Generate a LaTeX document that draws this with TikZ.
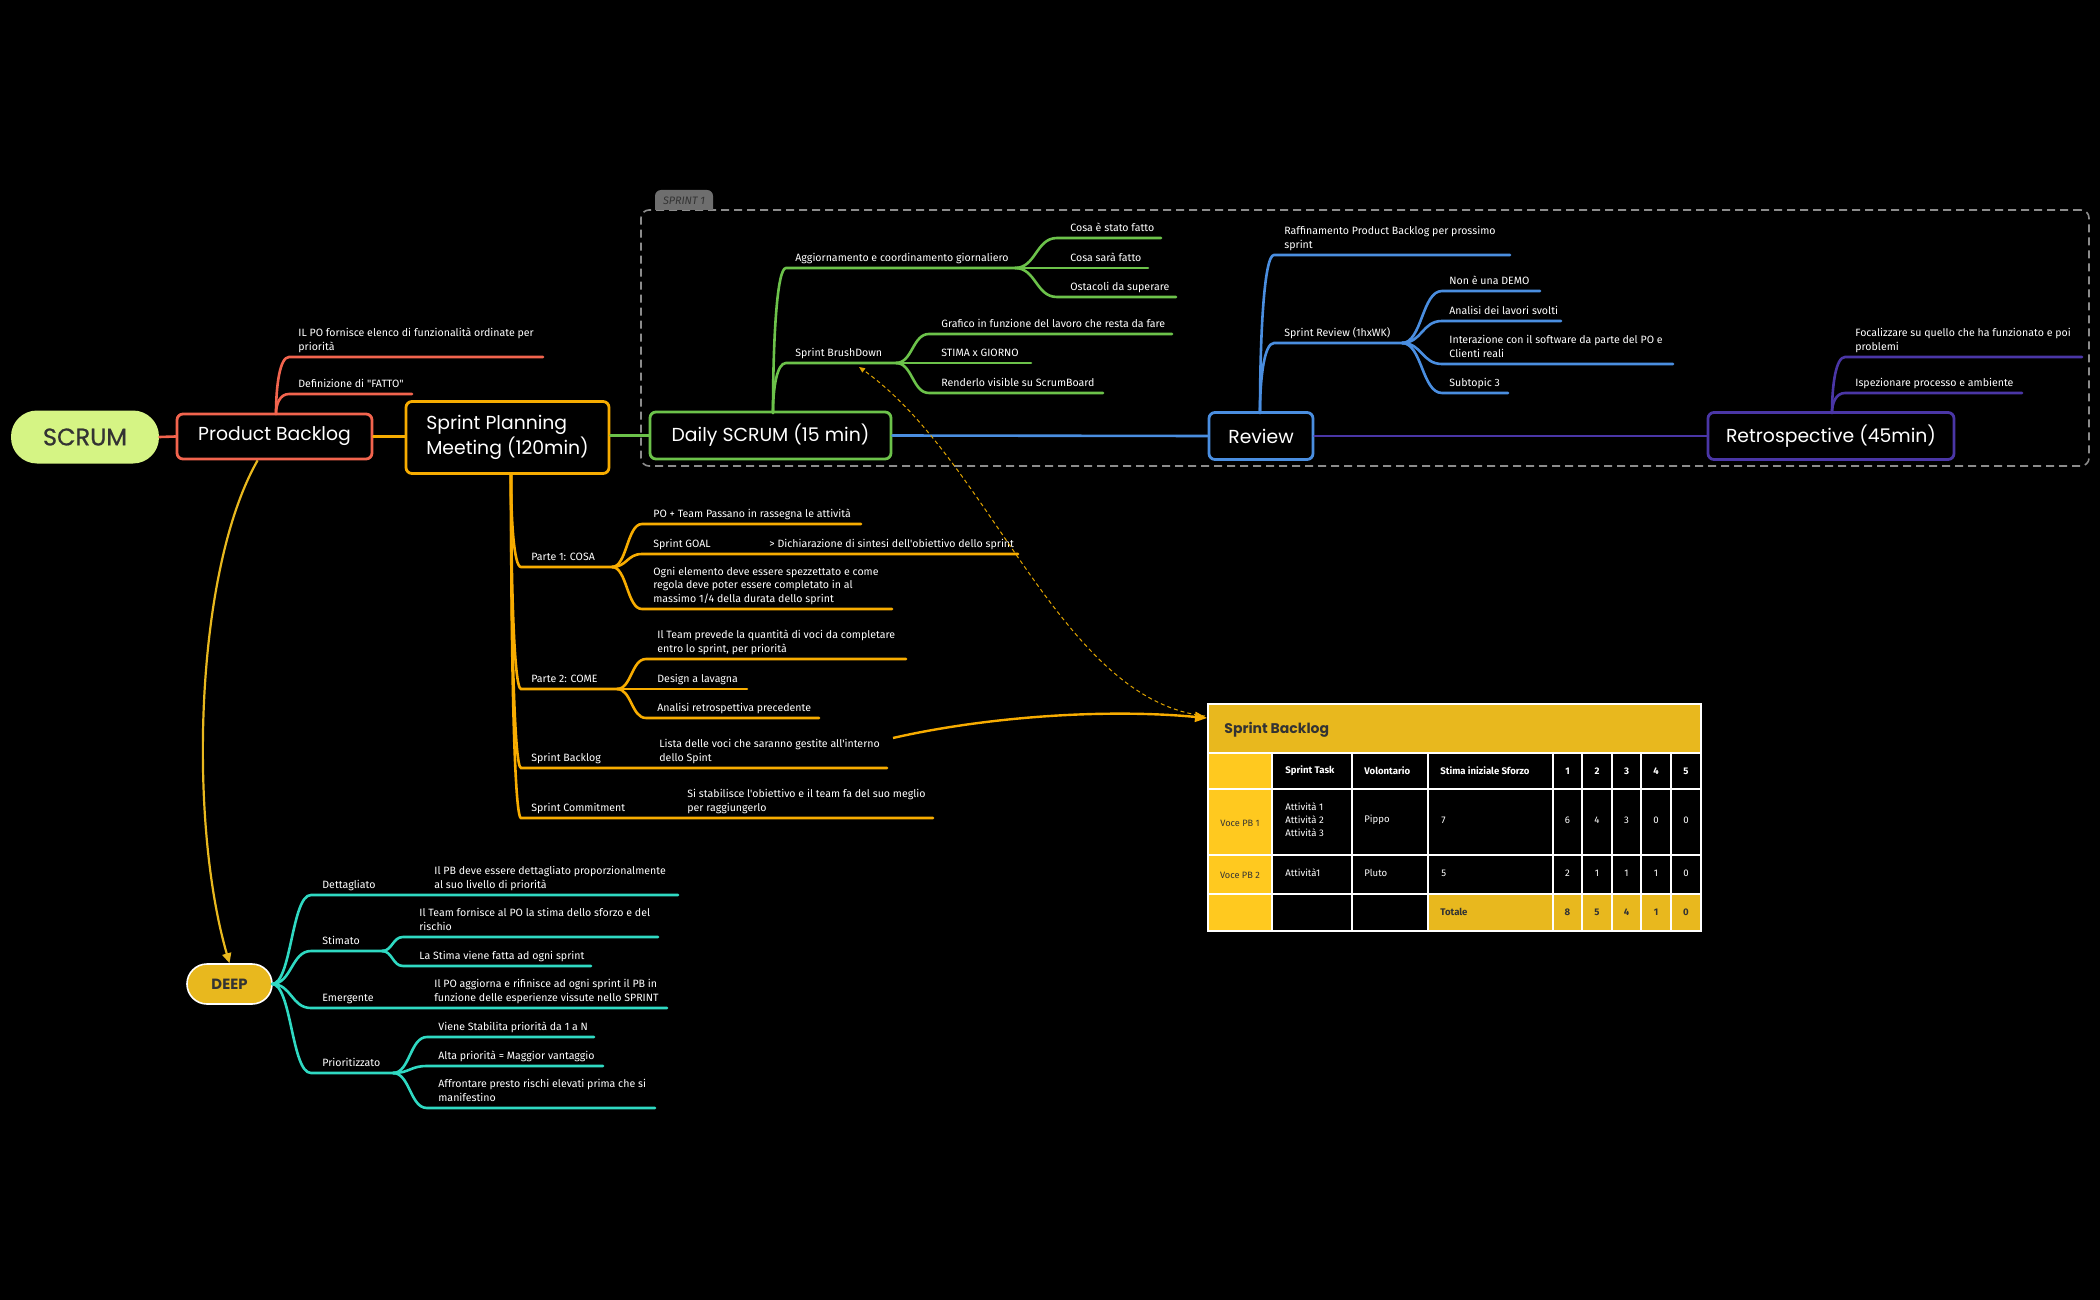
\documentclass[tikz,border=0pt]{standalone}
\usepackage{fontspec}
\setmainfont{Fira Sans}
\newfontfamily\ffti{Poppins}
\newfontfamily\fftib{Poppins}[FakeBold=0.8]
\newfontfamily\ffsm{Fira Sans}
\usetikzlibrary{arrows.meta}
\definecolor{cor}{HTML}{F2644E}
\definecolor{ora}{HTML}{F7AC00}
\definecolor{grn}{HTML}{6CC24A}
\definecolor{blu}{HTML}{4A8EE0}
\definecolor{pur}{HTML}{4A36A6}
\definecolor{tea}{HTML}{2FD9C2}
\definecolor{lime}{HTML}{D5F484}
\definecolor{gold}{HTML}{E8B81E}
\definecolor{yel}{HTML}{FFC91F}
\definecolor{dk}{HTML}{333333}
\definecolor{dashc}{HTML}{8C8C8C}
\definecolor{tabc}{HTML}{6E6E6E}
\definecolor{relc}{HTML}{E0A400}
\newcommand\lb[4]{\node[lbl] (#1) at (#2,{#3-2.5}) {#4\strut};}
\newcommand\vbr[6]{\draw[br,#1] (#2,#3) .. controls (#2,{(#3+#5)/2}) and ({#2+0.3*(#4-#2)},#5) .. (#4,#5) -- (#6,#5);}
\newcommand\hbr[6]{\draw[br,#1] (#2,#3) .. controls ({(#2+#4)/2},#3) and ({(#2+#4)/2},#5) .. (#4,#5) -- (#6,#5);}
\begin{document}
\begin{tikzpicture}[x=0.5pt,y=-0.5pt,
 lbl/.style={anchor=south west,inner sep=0pt,text=white,font=\ffsm\fontsize{5.3}{6.6}\selectfont,align=left},
 br/.style={line width=1.3pt,line cap=round},
 topic/.style={draw,line width=1.4pt,rounded corners=3pt,fill=black,text=white,font=\ffti\fontsize{9.4}{12.5}\selectfont,inner sep=0pt},
 tb/.style={inner sep=0pt,text=white,font=\ffsm\fontsize{4.8}{6.5}\selectfont,align=left},
 tbh/.style={tb,font=\ffsm\bfseries\fontsize{4.8}{6.5}\selectfont},
 tbd/.style={tb,text=dk,font=\ffsm\bfseries\fontsize{4.8}{6.5}\selectfont},
]
\fill[black] (0,0) rectangle (2100,1300);
\useasboundingbox (0,0) rectangle (2100,1300);

% sprint frame
\node[draw=dashc,line width=0.8pt,dash pattern=on 4pt off 2.5pt,rounded corners=4pt,minimum width=724pt,minimum height=128pt,inner sep=0pt] (frame) at (1365,338) {};
\fill[tabc] (655,210) [rounded corners=3pt]-- (655,190) -- (713,190) [sharp corners]-- (713,210) -- cycle;
\node[inner sep=0pt,text=dk,font=\ffsm\itshape\fontsize{5.4}{6}\selectfont] (tabt) at (684,200.5) {SPRINT 1};

% main topics
\node[fill=lime,rounded corners=13pt,minimum width=74pt,minimum height=26.5pt,inner sep=0pt,text=dk,font=\fftib\fontsize{12}{14}\selectfont] (scrum) at (85,437) {SCRUM};
\node[topic,draw=cor,minimum width=97.5pt,minimum height=22.5pt] (pb) at (274.5,436.5) {Product Backlog};
\node[topic,draw=ora,minimum width=101.5pt,minimum height=36pt,align=left] (sp) at (507.5,437.5) {Sprint Planning\\Meeting (120min)};
\node[topic,draw=grn,minimum width=120.5pt,minimum height=23.5pt] (daily) at (770.5,435.5) {Daily SCRUM (15 min)};
\node[topic,draw=blu,minimum width=52pt,minimum height=23.5pt] (rev) at (1261,436) {Review};
\node[topic,draw=pur,minimum width=123pt,minimum height=23.5pt] (retro) at (1831,436) {Retrospective (45min)};
\node[fill=gold,draw=white,line width=0.8pt,rounded corners=10pt,minimum width=42.5pt,minimum height=20pt,inner sep=0pt,text=dk,font=\ffti\bfseries\fontsize{7.4}{9}\selectfont] (deep) at (229.5,984) {DEEP};

\draw[br,cor] (scrum.east) -- (pb.west);
\draw[br,ora] (pb.east) -- (pb.east -| sp.west);
\draw[br,grn] (sp.east |- daily.west) -- (daily.west);
\draw[br,blu] (daily.east) -- (rev.west);
\draw[br,pur] (rev.east) -- (retro.west);

% Product Backlog branches
\vbr{cor}{276}{414}{289}{357}{543}
\vbr{cor}{276}{414}{289}{394}{412}
\lb{r1}{298}{357}{IL PO fornisce elenco di funzionalità ordinate per\\priorità}
\lb{r2}{298}{394}{Definizione di "FATTO"}

% Daily branches
\vbr{grn}{773}{413}{786}{268}{1021}
\vbr{grn}{773}{413}{786}{363}{902}
\lb{g1}{795}{268}{Aggiornamento e coordinamento giornaliero}
\lb{g2}{795}{363}{Sprint BrushDown}
\hbr{grn}{1015}{268}{1057}{238}{1161}
\hbr{grn}{1015}{268}{1057}{268}{1148}
\hbr{grn}{1015}{268}{1057}{297}{1176}
\lb{g11}{1070}{238}{Cosa è stato fatto}
\lb{g12}{1070}{268}{Cosa sarà fatto}
\lb{g13}{1070}{297}{Ostacoli da superare}
\hbr{grn}{896}{363}{929}{334}{1172}
\hbr{grn}{896}{363}{929}{363}{1031}
\hbr{grn}{896}{363}{929}{393}{1103}
\lb{g21}{941}{334}{Grafico in funzione del lavoro che resta da fare}
\lb{g22}{941}{363}{STIMA x GIORNO}
\lb{g23}{941}{393}{Renderlo visible su ScrumBoard}

% Review branches
\vbr{blu}{1260}{413}{1274}{255}{1510}
\vbr{blu}{1260}{413}{1274}{343}{1409}
\lb{b1}{1284}{255}{Raffinamento Product Backlog per prossimo\\sprint}
\lb{b2}{1284}{343}{Sprint Review (1hxWK)}
\hbr{blu}{1402}{343}{1442}{291}{1540}
\hbr{blu}{1402}{343}{1442}{321}{1561}
\hbr{blu}{1402}{343}{1442}{364}{1673}
\hbr{blu}{1402}{343}{1442}{393}{1508}
\lb{b21}{1449}{291}{Non è una DEMO}
\lb{b22}{1449}{321}{Analisi dei lavori svolti}
\lb{b23}{1449}{364}{Interazione con il software da parte del PO e\\Clienti reali}
\lb{b24}{1449}{393}{Subtopic 3}

% Retrospective branches
\vbr{pur}{1832}{413}{1845}{357}{2082}
\vbr{pur}{1832}{413}{1845}{393}{2022}
\lb{p1}{1855}{357}{Focalizzare su quello che ha funzionato e poi\\problemi}
\lb{p2}{1855}{393}{Ispezionare processo e ambiente}

% Sprint Planning branches
\vbr{ora}{511}{474}{521}{567}{616}
\vbr{ora}{511}{474}{521}{689}{621}
\vbr{ora}{511}{474}{521}{768}{887}
\vbr{ora}{511}{474}{521}{818}{933}
\lb{o1}{531}{567}{Parte 1: COSA}
\lb{o2}{531}{689}{Parte 2: COME}
\lb{o3}{531}{768}{Sprint Backlog}
\lb{o4}{531}{818}{Sprint Commitment}
\lb{o3b}{659}{768}{Lista delle voci che saranno gestite all'interno\\dello Spint}
\lb{o4b}{687}{818}{Si stabilisce l'obiettivo e il team fa del suo meglio\\per raggiungerlo}
\hbr{ora}{612}{567}{642}{524}{861}
\hbr{ora}{612}{567}{642}{554}{1018}
\hbr{ora}{612}{567}{642}{609}{892}
\lb{o11}{653}{524}{PO + Team Passano in rassegna le attività}
\lb{o12}{653}{554}{Sprint GOAL}
\lb{o12b}{769}{554}{> Dichiarazione di sintesi dell'obiettivo dello sprint}
\lb{o13}{653}{609}{Ogni elemento deve essere spezzettato e come\\regola deve poter essere completato in al\\massimo 1/4 della durata dello sprint}
\hbr{ora}{617}{689}{646}{659}{906}
\hbr{ora}{617}{689}{646}{689}{747}
\hbr{ora}{617}{689}{646}{718}{819}
\lb{o21}{657}{659}{Il Team prevede la quantità di voci da completare\\entro lo sprint, per priorità}
\lb{o22}{657}{689}{Design a lavagna}
\lb{o23}{657}{718}{Analisi retrospettiva precedente}

% DEEP branches
\hbr{tea}{272}{984}{311}{895}{678}
\hbr{tea}{272}{984}{311}{951}{385}
\hbr{tea}{272}{984}{311}{1008}{667}
\hbr{tea}{272}{984}{311}{1073}{396}
\lb{t1}{322}{895}{Dettagliato}
\lb{t2}{322}{951}{Stimato}
\lb{t3}{322}{1008}{Emergente}
\lb{t4}{322}{1073}{Prioritizzato}
\lb{t1b}{434}{895}{Il PB deve essere dettagliato proporzionalmente\\al suo livello di priorità}
\lb{t3b}{434}{1008}{Il PO aggiorna e rifinisce ad ogni sprint il PB in\\funzione delle esperienze vissute nello SPRINT}
\hbr{tea}{382}{951}{403}{937}{658}
\hbr{tea}{382}{951}{403}{966}{591}
\lb{t21}{419}{937}{Il Team fornisce al PO la stima dello sforzo e del\\rischio}
\lb{t22}{419}{966}{La Stima viene fatta ad ogni sprint}
\hbr{tea}{393}{1073}{427}{1037}{594}
\hbr{tea}{393}{1073}{427}{1066}{603}
\hbr{tea}{393}{1073}{427}{1108}{655}
\lb{t41}{438}{1037}{Viene Stabilita priorità da 1 a N}
\lb{t42}{438}{1066}{Alta priorità = Maggior vantaggio}
\lb{t43}{438}{1108}{Affrontare presto rischi elevati prima che si\\manifestino}

% table
\fill[gold] (1208,704) rectangle (1701,753);
\fill[yel] (1208,753) rectangle (1272,931);
\fill[gold] (1428,894) rectangle (1701,931);
\draw[white,line width=1pt] (1208,704) rectangle (1701,931);
\foreach \yy in {753,789,855,894} \draw[white,line width=1pt] (1208,\yy) -- (1701,\yy);
\foreach \xx in {1272,1352,1428,1553,1582,1612,1641,1671} \draw[white,line width=1pt] (\xx,753) -- (\xx,931);
\node[anchor=west,inner sep=0pt,text=dk,font=\ffti\bfseries\fontsize{7}{8}\selectfont] (sbt) at (1224,730) {Sprint Backlog};
\node[tbh,anchor=west] (h1) at (1285,771) {Sprint Task};
\node[tbh,anchor=west] (h2) at (1364,771) {Volontario};
\node[tbh,anchor=west] (h3) at (1440,771) {Stima iniziale Sforzo};
\foreach \xx/\v [count=\i] in {1567.5/1,1597/2,1626.5/3,1656/4,1686/5} \node[tbh] (hn\i) at (\xx,771) {\v};
\node[tb,text=dk,font=\ffsm\fontsize{4.6}{6}\selectfont] (v1) at (1240,823) {Voce PB 1};
\node[tb,text=dk,font=\ffsm\fontsize{4.6}{6}\selectfont] (v2) at (1240,875) {Voce PB 2};
\node[tb,anchor=west] (a1) at (1285,820) {Attività 1\\Attività 2\\Attività 3};
\node[tb,anchor=west] (pp) at (1364,820) {Pippo};
\node[tb,anchor=west] (s1) at (1441,820) {7};
\foreach \xx/\v [count=\i] in {1567.5/6,1597/4,1626.5/3,1656/0,1686/0} \node[tb] (ra\i) at (\xx,820) {\v};
\node[tb,anchor=west] (a2) at (1285,873) {Attività1};
\node[tb,anchor=west] (pl) at (1364,873) {Pluto};
\node[tb,anchor=west] (s2) at (1441,873) {5};
\foreach \xx/\v [count=\i] in {1567.5/2,1597/1,1626.5/1,1656/1,1686/0} \node[tb] (rb\i) at (\xx,873) {\v};
\node[tbd,anchor=west] (tot) at (1440,912) {Totale};
\foreach \xx/\v [count=\i] in {1567.5/8,1597/5,1626.5/4,1656/1,1686/0} \node[tbd] (rc\i) at (\xx,912) {\v};

% relationships
\coordinate (tin) at (1207,718);
\coordinate (lsend) at (893,738);
\coordinate (bdend) at (859,367);
\draw[ora,line width=1.2pt,-{Triangle[length=6pt,width=5pt]}] (lsend) .. controls (980,718) and (1100,708) .. (tin);
\draw[relc,line width=0.5pt,dash pattern=on 2pt off 1.5pt,-{Triangle[length=3pt,width=2.5pt]}] (1205,716) .. controls (1060,700) and (990,460) .. (bdend);
\draw[gold,line width=1.1pt,-{Triangle[length=5pt,width=4.5pt]}] (pb.south west) ++(82,0) .. controls (195,570) and (188,820) .. (deep.north);
\end{tikzpicture}
\end{document}
